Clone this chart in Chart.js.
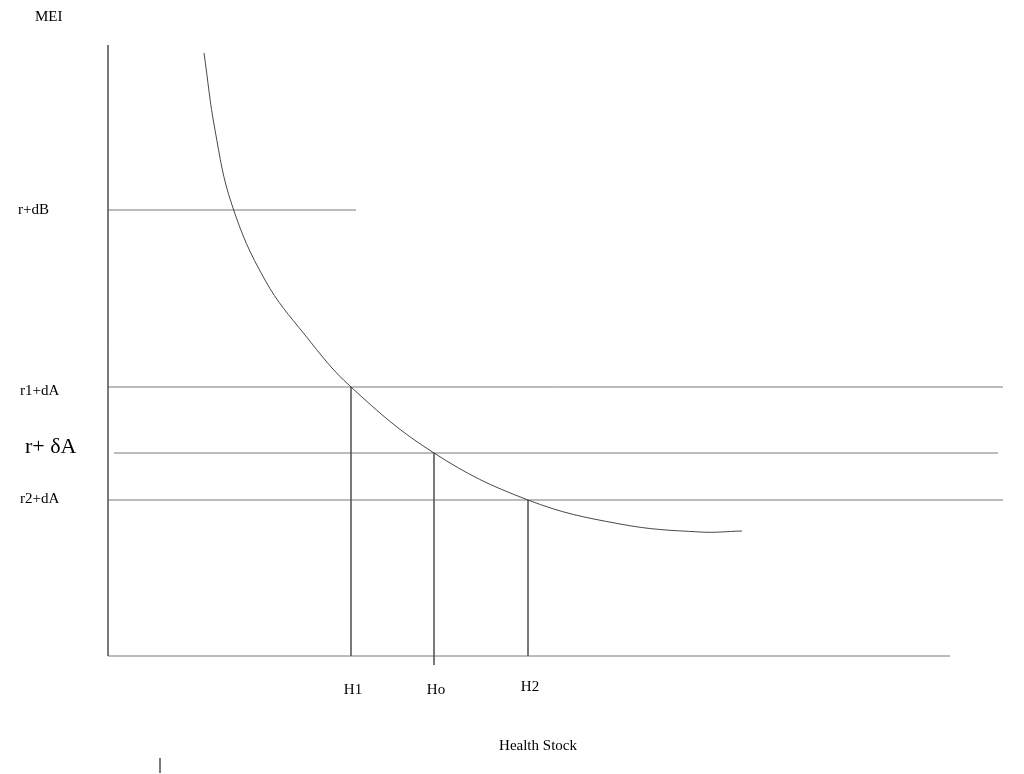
<!DOCTYPE html>
<html>
<head>
<meta charset="utf-8">
<script src="https://cdn.jsdelivr.net/npm/chart.js@4"></script>
<style>
  html, body { margin: 0; padding: 0; background: #fff; }
  #wrap { width: 1024px; height: 774px; }
</style>
</head>
<body>
<div id="wrap"><canvas id="mei"></canvas></div>
<script>
// MEI curve (x = health stock, y = drawn from top in diagram units)
const curveX = [204, 215, 232, 265, 305, 351, 434, 528, 620, 700, 742];
const curveY = [53, 130, 205, 280, 335, 387, 453, 500, 524, 532, 531];

// horizontal rate lines: level, start, end
const rateNames = ["r+dB", "r1+dA", "r+ δA", "r2+dA"];
const rateLevels = [210, 387, 453, 500];
const rateFrom = [108, 108, 114, 108];
const rateTo = [356, 1003, 998, 1003];

// health stock points where the rates cut the curve
const stockNames = ["H1", "Ho", "H2"];
const stockValues = [351, 434, 528];
const stockTop = [387, 453, 500];
const stockBottom = [656, 665, 656];

const axisOriginX = 108, axisOriginY = 656, axisTopY = 45, axisRightX = 950;

const seg = (x1, y1, x2, y2) => ({
  data: [{ x: x1, y: y1 }, { x: x2, y: y2 }],
  borderColor: "#555", borderWidth: 0.8, pointRadius: 0, showLine: true, tension: 0
});

const datasets = [];
datasets.push({
  data: curveX.map((x, i) => ({ x, y: curveY[i] })),
  borderColor: "#333", borderWidth: 0.9, pointRadius: 0, showLine: true,
  tension: 0.4
});
rateLevels.forEach((y, i) => datasets.push(seg(rateFrom[i], y, rateTo[i], y)));
stockValues.forEach((x, i) => datasets.push(seg(x, stockTop[i], x, stockBottom[i])));
datasets.push(seg(axisOriginX, axisTopY, axisOriginX, axisOriginY));
datasets.push(seg(axisOriginX, axisOriginY, axisRightX, axisOriginY));
datasets.push(seg(160, 758, 160, 773));

// text labels
const labelPlugin = {
  id: "labels",
  afterDraw(chart) {
    const { ctx, scales: { x, y } } = chart;
    ctx.save();
    ctx.fillStyle = "#000";
    ctx.textBaseline = "middle";
    ctx.font = "15px 'Liberation Serif', serif";
    ctx.fillText("MEI", x.getPixelForValue(35), y.getPixelForValue(17));
    const rateLabelX = [18, 20, 25, 20];
    const rateLabelY = [210, 391, 447, 499];
    rateNames.forEach((n, i) => {
      ctx.font = i === 2 ? "22px 'Liberation Serif', serif" : "15px 'Liberation Serif', serif";
      ctx.fillText(n, x.getPixelForValue(rateLabelX[i]), y.getPixelForValue(rateLabelY[i]));
    });
    ctx.font = "15px 'Liberation Serif', serif";
    ctx.textAlign = "center";
    const stockLabelY = [690, 690, 687];
    stockNames.forEach((n, i) => {
      ctx.fillText(n, x.getPixelForValue(stockValues[i] + 2), y.getPixelForValue(stockLabelY[i]));
    });
    ctx.fillText("Health Stock", x.getPixelForValue(538), y.getPixelForValue(746));
    ctx.restore();
  }
};

new Chart(document.getElementById("mei"), {
  type: "scatter",
  data: { datasets },
  options: {
    responsive: true,
    maintainAspectRatio: false,
    animation: false,
    layout: { padding: 0 },
    plugins: { legend: { display: false }, tooltip: { enabled: false } },
    scales: {
      x: { type: "linear", min: 0, max: 1024, display: false },
      y: { type: "linear", min: 0, max: 774, reverse: true, display: false }
    }
  },
  plugins: [labelPlugin]
});
</script>
</body>
</html>
